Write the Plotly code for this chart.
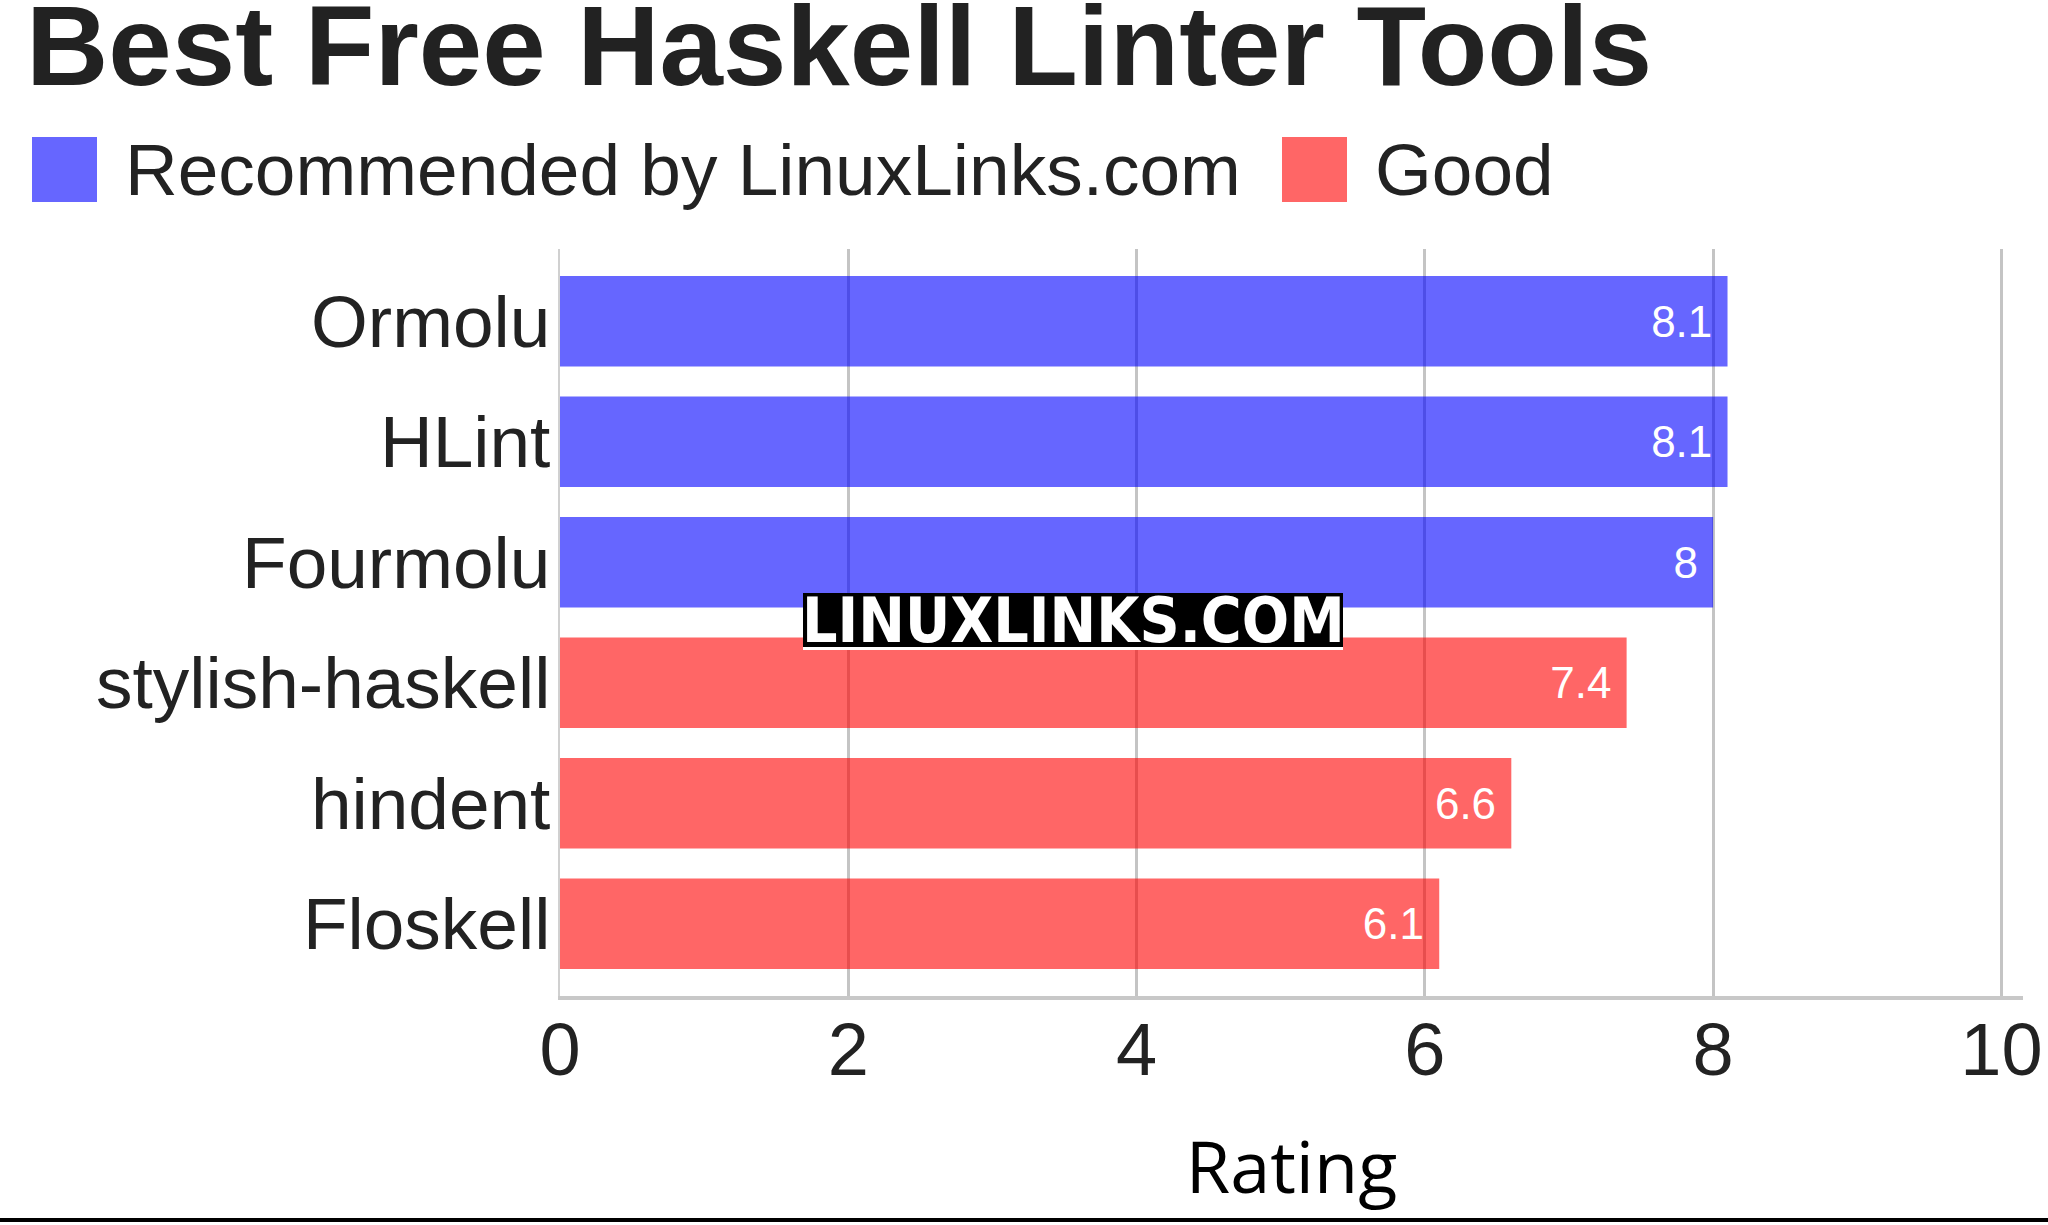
import plotly.graph_objects as go

# ratings, top to bottom
tools = ["Ormolu", "HLint", "Fourmolu", "stylish-haskell", "hindent", "Floskell"]
ratings = [8.1, 8.1, 8.0, 7.4, 6.6, 6.1]
groups = ["Recommended by LinuxLinks.com"] * 3 + ["Good"] * 3

group_names = ["Recommended by LinuxLinks.com", "Good"]
group_colors = {"Recommended by LinuxLinks.com": "rgba(0,0,255,0.6)",
                "Good": "rgba(255,0,0,0.6)"}

W, H = 2048, 1225
L, R, T, B = 560, 25, 249, 229
PW, PH = W - L - R, H - T - B


def px(x):
    return (x - L) / PW


def py(y):
    return (H - B - y) / PH


fig = go.Figure()
for g in group_names:
    ys = [t for t, gg in zip(tools, groups) if gg == g]
    xs = [r for r, gg in zip(ratings, groups) if gg == g]
    fig.add_trace(go.Bar(
        x=xs, y=ys, orientation="h", name=g,
        marker=dict(color=group_colors[g], line=dict(width=0)),
        texttemplate="%{x}\u00a0", textposition="inside", insidetextanchor="end",
        textfont=dict(family="Liberation Sans", size=44, color="white"),
        showlegend=False,
    ))

# hand made legend (big squares)
legend_items = [(32, group_names[0]), (1282, group_names[1])]
for x0, g in legend_items:
    fig.add_shape(type="rect", xref="paper", yref="paper",
                  x0=px(x0), x1=px(x0 + 65), y0=py(137), y1=py(202),
                  fillcolor=group_colors[g], line=dict(width=0))
    fig.add_annotation(xref="paper", yref="paper", x=px(x0 + 91), y=py(169),
                       text=g, showarrow=False, xanchor="left", yanchor="middle",
                       font=dict(family="Liberation Sans", size=73, color="#222"))

# watermark
fig.add_shape(type="rect", xref="paper", yref="paper",
              x0=px(803), x1=px(1343), y0=py(593), y1=py(647),
              fillcolor="black", line=dict(width=0))
fig.add_shape(type="rect", xref="paper", yref="paper",
              x0=px(803), x1=px(1343), y0=py(647), y1=py(650),
              fillcolor="white", line=dict(width=0))
fig.add_annotation(xref="paper", yref="paper", x=px(1073), y=py(620),
                   text="<b>LINUXLINKS.COM</b>", showarrow=False,
                   xanchor="center", yanchor="middle",
                   font=dict(family="DejaVu Sans Condensed", size=62, color="white"))

# rule at the bottom
fig.add_shape(type="line", xref="paper", yref="paper",
              x0=px(0), x1=px(W), y0=py(1220), y1=py(1220),
              line=dict(color="black", width=4))

fig.update_layout(
    width=W, height=H,
    margin=dict(l=L, r=R, t=T, b=B, autoexpand=False),
    paper_bgcolor="white", plot_bgcolor="white",
    barmode="overlay", bargap=0.25,
    title=dict(text="<b>Best Free Haskell Linter Tools</b>",
               x=26 / W, xanchor="left", xref="container",
               y=1, yanchor="top", yref="container", pad=dict(t=5),
               font=dict(family="Liberation Sans", size=114, color="#222")),
    xaxis=dict(range=[0, 10.15], dtick=2, showgrid=True, gridcolor="#c4c4c4",
               gridwidth=3, zeroline=False, showline=True, linecolor="#c8c8c8",
               linewidth=4, ticks="", ticklabelstandoff=-14,
               tickfont=dict(family="Liberation Sans", size=74, color="#222"),
               title=dict(text="Rating", standoff=54,
                          font=dict(family="Open Sans", size=72, color="black"))),
    yaxis=dict(categoryorder="array", categoryarray=tools, range=[5.6, -0.6],
               showgrid=False, zeroline=False, showline=True, linecolor="#d0d0d0",
               linewidth=2, ticks="", ticklabelstandoff=-7,
               tickfont=dict(family="Liberation Sans", size=73, color="#222")),
)

fig.write_html("out.html", config={"displayModeBar": False},
               post_script="document.body.style.margin = '0';")
